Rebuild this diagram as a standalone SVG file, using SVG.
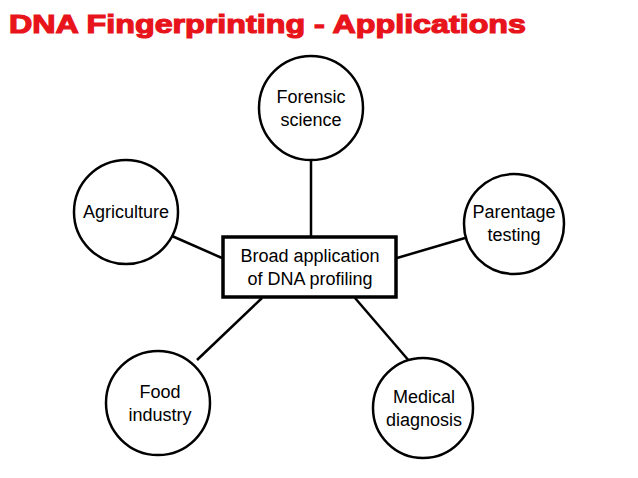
<svg xmlns="http://www.w3.org/2000/svg" width="638" height="478" viewBox="0 0 638 478">
<style>
.c{fill:#fff;stroke:#000;stroke-width:2.5}
.t{font-family:"Liberation Sans",Arial,sans-serif;font-size:18px;fill:#000;text-anchor:middle}
.l{stroke:#000;stroke-width:2.5}
</style>
<rect width="638" height="478" fill="#fff"/>
<text x="9" y="33" font-family="Liberation Sans,Arial,sans-serif" font-weight="bold" font-size="26" fill="#e8141c" stroke="#e8141c" stroke-width="1.2" textLength="517" lengthAdjust="spacingAndGlyphs">DNA Fingerprinting - Applications</text>
<g id="connectors">
<line class="l" x1="311" y1="160" x2="311" y2="236"/>
<line class="l" x1="172" y1="236" x2="222" y2="258"/>
<line class="l" x1="465" y1="238" x2="397" y2="258"/>
<line class="l" x1="197" y1="360" x2="262" y2="298"/>
<line class="l" x1="410" y1="362" x2="355" y2="298"/>
</g>
<g id="center"><rect x="223" y="237" width="173" height="60" fill="#fff" stroke="#000" stroke-width="3.5"/>
<text class="t" x="310" y="262">Broad application</text><text class="t" x="310" y="285">of DNA profiling</text></g>
<g id="forensic"><circle class="c" cx="311" cy="108" r="52"/><text class="t" x="311" y="103">Forensic</text><text class="t" x="311" y="126">science</text></g>
<g id="agriculture"><circle class="c" cx="126" cy="212" r="52"/><text class="t" x="126" y="218">Agriculture</text></g>
<g id="parentage"><circle class="c" cx="514" cy="224" r="50"/><text class="t" x="514" y="218">Parentage</text><text class="t" x="514" y="241">testing</text></g>
<g id="food"><circle class="c" cx="158" cy="403" r="52"/><text class="t" x="160" y="398">Food</text><text class="t" x="160" y="421">industry</text></g>
<g id="medical"><circle class="c" cx="423" cy="408" r="50"/><text class="t" x="424" y="403">Medical</text><text class="t" x="424" y="426">diagnosis</text></g>
</svg>
